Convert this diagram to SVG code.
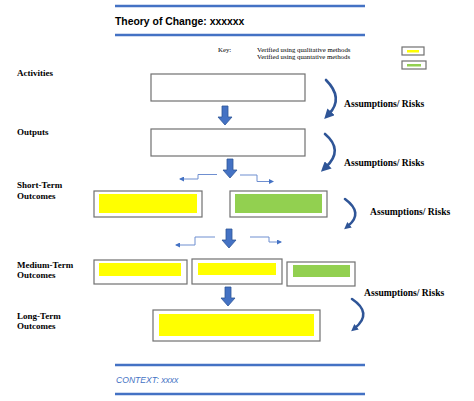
<svg xmlns="http://www.w3.org/2000/svg" width="474" height="401" viewBox="0 0 474 401">
<style>
.rule{stroke:#4472c4;stroke-width:2.5;fill:none}
.lbl{font-family:"Liberation Serif",serif;font-weight:bold;font-size:9px;fill:#000}
.risk{font-family:"Liberation Serif",serif;font-weight:bold;font-size:9.6px;fill:#000}
.key{font-family:"Liberation Serif",serif;font-size:6.8px;fill:#000}
.box{fill:#fff;stroke:#707070;stroke-width:1.2}
.y{fill:#ffff00}
.g{fill:#92d050}
.barrow{fill:#4472c4;stroke:#2f5597;stroke-width:0.8}
.curve{fill:none;stroke:#2f5597;stroke-width:2.6;stroke-linecap:round}
.elbow{fill:none;stroke:#6f8fd0;stroke-width:1}
</style>
<defs>
<marker id="ch" markerUnits="userSpaceOnUse" markerWidth="10" markerHeight="10" refX="3" refY="5" orient="auto" viewBox="0 0 10 10">
<path d="M0,0 L10,5 L0,10 Z" fill="#2f5597"/>
</marker>
<marker id="chs" markerUnits="userSpaceOnUse" markerWidth="7" markerHeight="7" refX="2" refY="3.5" orient="auto" viewBox="0 0 7 7">
<path d="M0,0 L7,3.5 L0,7 Z" fill="#2f5597"/>
</marker>
<marker id="eh" markerUnits="userSpaceOnUse" markerWidth="5" markerHeight="5" refX="4" refY="2.5" orient="auto" viewBox="0 0 5 5">
<path d="M0,0 L5,2.5 L0,5 Z" fill="#4472c4"/>
</marker>
</defs>
<rect width="474" height="401" fill="#fff"/>

<g id="header">
<line class="rule" x1="115" y1="6" x2="365" y2="6"/>
<text x="115" y="25" font-family="Liberation Sans,Arial,sans-serif" font-weight="bold" font-size="10.4px" fill="#000">Theory of Change: xxxxxx</text>
<line class="rule" x1="115" y1="35" x2="365" y2="35"/>
</g>

<g id="key">
<text class="key" x="218" y="52">Key:</text>
<text class="key" x="257" y="52">Verified using qualitative methods</text>
<text class="key" x="257" y="59">Verified using quantative methods</text>
<rect class="box" x="402" y="47" width="22" height="8"/>
<rect class="y" x="407" y="50" width="12" height="2.5"/>
<rect class="box" x="402" y="61" width="24" height="8"/>
<rect class="g" x="407" y="64" width="14" height="2.5"/>
</g>

<g id="labels">
<text class="lbl" x="17" y="76">Activities</text>
<text class="lbl" x="17" y="135">Outputs</text>
<text class="lbl" x="17" y="188">Short-Term</text>
<text class="lbl" x="17" y="199">Outcomes</text>
<text class="lbl" x="17" y="268">Medium-Term</text>
<text class="lbl" x="17" y="278">Outcomes</text>
<text class="lbl" x="17" y="319">Long-Term</text>
<text class="lbl" x="17" y="329">Outcomes</text>
</g>

<g id="activities"><rect class="box" x="151" y="74" width="154" height="27"/></g>
<g id="outputs"><rect class="box" x="151" y="129" width="154" height="27"/></g>

<g id="st1"><rect class="box" x="94" y="191" width="108" height="26"/><rect class="y" x="99" y="194" width="98" height="19"/></g>
<g id="st2"><rect class="box" x="230" y="191" width="97" height="26"/><rect class="g" x="235" y="194" width="87" height="19"/></g>

<g id="mt1"><rect class="box" x="94" y="260" width="93" height="24"/><rect class="y" x="99" y="263" width="82" height="13"/></g>
<g id="mt2"><rect class="box" x="192" y="259" width="90" height="25"/><rect class="y" x="198" y="263" width="78" height="12"/></g>
<g id="mt3"><rect class="box" x="287" y="262" width="68" height="24"/><rect class="g" x="293" y="265" width="57" height="12"/></g>

<g id="lt1"><rect class="box" x="153" y="310" width="167" height="31"/><rect class="y" x="159" y="314" width="155" height="22"/></g>

<g id="risks">
<text class="risk" x="344" y="107">Assumptions/ Risks</text>
<text class="risk" x="344" y="166">Assumptions/ Risks</text>
<text class="risk" x="370" y="215">Assumptions/ Risks</text>
<text class="risk" x="364" y="296">Assumptions/ Risks</text>
</g>

<g id="connectors">
<path class="barrow" d="M222,106 H228 V117 H232 L225,125 L218,117 H222 Z"/>
<path class="barrow" d="M227,159 H233 V170 H237 L230,178 L223,170 H227 Z"/>
<path class="barrow" d="M226,229 H232 V240 H236 L229,248 L222,240 H226 Z"/>
<path class="barrow" d="M225,287 H231 V298 H235 L228,306 L221,298 H225 Z"/>

<path class="elbow" d="M217,174.5 H198 V179 H180" marker-end="url(#eh)"/>
<path class="elbow" d="M240,175 H257 V181.5 H273" marker-end="url(#eh)"/>
<path class="elbow" d="M215,237 H195 V245 H176" marker-end="url(#eh)"/>
<path class="elbow" d="M250,237 H269 V242 H281" marker-end="url(#eh)"/>

<path class="curve" d="M326,80 Q344,98 329,114" marker-end="url(#ch)"/>
<path class="curve" d="M325,134 Q344,150 326,167" marker-end="url(#ch)"/>
<path class="curve" d="M345,199 Q364,213 348,226" marker-end="url(#chs)"/>
<path class="curve" d="M352,299 Q373,313 355,328" marker-end="url(#chs)"/>
</g>

<g id="context">
<line class="rule" x1="115" y1="365" x2="365" y2="365"/>
<text x="116" y="383" font-family="Liberation Sans,Arial,sans-serif" font-style="italic" font-size="8.6px" fill="#4472c4">CONTEXT: xxxx</text>
<line class="rule" x1="115" y1="394" x2="365" y2="394"/>
</g>
</svg>
